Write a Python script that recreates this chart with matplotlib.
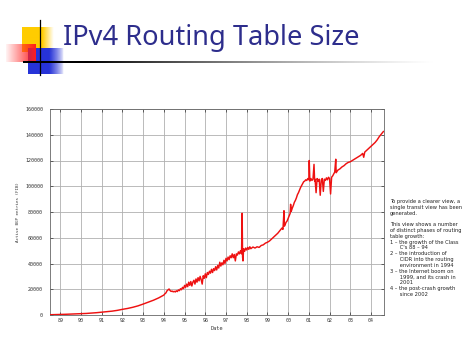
import numpy as np
import matplotlib
matplotlib.use("Agg")
import matplotlib.pyplot as plt

# Active BGP entries (decimal years)
date = [
    1988.50, 1988.75, 1989.00, 1989.25, 1989.50, 1989.75, 1990.00, 1990.25, 1990.50, 1990.75,
    1991.00, 1991.25, 1991.50, 1991.75, 1992.00, 1992.25, 1992.50, 1992.75, 1993.00, 1993.25,
    1993.50, 1993.75, 1994.00, 1994.05, 1994.10, 1994.15, 1994.20, 1994.25, 1994.30, 1994.35,
    1994.40, 1994.45, 1994.50, 1994.55, 1994.60, 1994.65, 1994.70, 1994.75, 1994.80, 1994.85,
    1994.90, 1994.95, 1995.00, 1995.05, 1995.10, 1995.15, 1995.20, 1995.25, 1995.30, 1995.35,
    1995.40, 1995.45, 1995.50, 1995.55, 1995.60, 1995.65, 1995.70, 1995.75, 1995.80, 1995.85,
    1995.90, 1995.95, 1996.00, 1996.05, 1996.10, 1996.15, 1996.20, 1996.25, 1996.30, 1996.35,
    1996.40, 1996.45, 1996.50, 1996.55, 1996.60, 1996.65, 1996.70, 1996.75, 1996.80, 1996.85,
    1996.90, 1996.95, 1997.00, 1997.05, 1997.10, 1997.15, 1997.20, 1997.25, 1997.30, 1997.35,
    1997.40, 1997.45, 1997.50, 1997.55, 1997.60, 1997.65, 1997.70, 1997.75, 1997.78, 1997.80,
    1997.82, 1997.85, 1997.90, 1997.95, 1998.00, 1998.05, 1998.10, 1998.15, 1998.20, 1998.30,
    1998.40, 1998.50, 1998.60, 1998.70, 1998.80, 1998.90, 1999.00, 1999.10, 1999.20, 1999.30,
    1999.40, 1999.50, 1999.60, 1999.70, 1999.75, 1999.80, 1999.82, 1999.85, 1999.90, 1999.95,
    2000.00, 2000.05, 2000.10, 2000.12, 2000.15, 2000.20, 2000.25, 2000.30, 2000.35, 2000.40,
    2000.45, 2000.50, 2000.55, 2000.60, 2000.65, 2000.70, 2000.75, 2000.80, 2000.85, 2000.90,
    2000.95, 2001.00, 2001.02, 2001.05, 2001.10, 2001.15, 2001.20, 2001.25, 2001.28, 2001.30,
    2001.35, 2001.40, 2001.45, 2001.50, 2001.55, 2001.60, 2001.65, 2001.70, 2001.75, 2001.80,
    2001.85, 2001.90, 2001.95, 2002.00, 2002.05, 2002.10, 2002.15, 2002.20, 2002.25, 2002.30,
    2002.32, 2002.40, 2002.50, 2002.60, 2002.70, 2002.80, 2002.90, 2003.00, 2003.10, 2003.20,
    2003.30, 2003.40, 2003.50, 2003.60, 2003.65, 2003.70, 2003.80, 2003.90, 2004.00, 2004.10,
    2004.20, 2004.30, 2004.40, 2004.50, 2004.60,
]
entries = [
    200, 300, 450, 550, 700, 850, 1000, 1200, 1500, 1800,
    2200, 2600, 3000, 3600, 4400, 5100, 6000, 7100, 8500, 10000,
    11500, 13300, 15500, 16500, 17200, 18800, 19500, 20200, 19000, 18300,
    18600, 18000, 18400, 17900, 18800, 18200, 19500, 18900, 20400, 19600,
    21500, 20500, 23000, 21500, 24000, 22000, 25500, 23000, 26000, 22500,
    25500, 27000, 24000, 28000, 25500, 29000, 26500, 30000, 27500, 24000,
    30500, 28500, 32000, 29000, 33000, 31500, 34000, 32500, 35500, 33000,
    36000, 34500, 37500, 35000, 38500, 36500, 41000, 38000, 40500, 39000,
    42500, 40000, 44000, 42000, 45000, 43000, 46000, 44500, 47500, 44500,
    47000, 42000, 47500, 46500, 49000, 47500, 50000, 47500, 79000, 45000,
    42000, 51500, 49500, 52000, 50500, 52500, 51000, 53000, 51500, 52800,
    52000, 53000, 52500, 54000, 54500, 55800, 56500, 57500, 59000, 60500,
    62000, 63500, 65500, 67500, 66500, 81000, 69000, 70000, 72000, 73000,
    75000, 77000, 79000, 86000, 80500, 83000, 85000, 87500, 89000, 91000,
    93500, 95000, 97000, 99000, 100500, 102000, 103500, 104000, 105000, 104500,
    106000, 105000, 120000, 104000, 106000, 104500, 105500, 117000, 104000, 105500,
    95000, 106000, 104000, 105500, 93000, 105000, 106000, 96000, 105500, 104500,
    106500, 105000, 107000, 106000, 94000, 107000, 108000, 109500, 111000, 121000,
    110500, 112500, 113500, 115000, 116000, 117500, 118500, 119000, 120000, 121000,
    122000, 123000, 124000, 125500, 122500, 126500, 128000, 129500, 131000, 132500,
    134000, 136000, 138500, 140500, 142500,
]

year_ticks = list(range(1989, 2005))
year_labels = ["%02d" % (y % 100) for y in year_ticks]
entry_ticks = list(range(0, 160001, 20000))

title = "IPv4 Routing Table Size"
notes = ("To provide a clearer view, a\n"
         "single transit view has been\n"
         "generated.\n"
         "\n"
         "This view shows a number\n"
         "of distinct phases of routing\n"
         "table growth:\n"
         "1 \u2013 the growth of the Class\n"
         "      C's 88 \u2013 94\n"
         "2 \u2013 the introduction of\n"
         "      CIDR into the routing\n"
         "      environment in 1994\n"
         "3 \u2013 the Internet boom on\n"
         "      1999, and its crash in\n"
         "      2001\n"
         "4 \u2013 the post-crash growth\n"
         "      since 2002")

W, H = 474, 355
fig = plt.figure(figsize=(W / 100, H / 100), dpi=100)

# slide decoration layer, in pixel coordinates
deco = fig.add_axes([0, 0, 1, 1])
deco.set_xlim(0, W)
deco.set_ylim(H, 0)
deco.axis("off")

def strip(rgb, alpha, x0, x1, y0, y1, z):
    img = np.ones((1, len(alpha), 4))
    img[0, :, :3] = rgb
    img[0, :, 3] = alpha
    deco.imshow(img, extent=(x0, x1, y1, y0), aspect="auto", zorder=z,
                interpolation="bilinear")

ramp = np.linspace(1, 0, 24)
strip((1.0, 0.80, 0.0), np.r_[np.ones(40), ramp], 22, 54, 27, 52, 1)
strip((1.0, 0.12, 0.12), np.linspace(0.05, 1, 64), 6, 36, 44, 62, 3)
strip((0.15, 0.2, 0.85), np.r_[np.ones(34), ramp ** 0.7], 28, 64, 48, 74, 2)
deco.plot([40.5, 40.5], [20, 75], color="black", lw=0.9, zorder=5)
# horizontal rule fading out to the right
strip((0.0, 0.0, 0.0), np.r_[np.ones(15), np.linspace(1, 0, 85) ** 1.3],
      23, 440, 61.4, 62.8, 5)
deco.set_xlim(0, W)
deco.set_ylim(H, 0)
deco.text(63, 45, title, fontsize=19.6, color="#2d2d8c", family="Noto Sans",
          va="baseline", ha="left", zorder=6)
deco.text(390, 199, notes, fontsize=3.7, color="#222222", family="DejaVu Sans",
          va="top", ha="left", linespacing=1.2)

# the chart itself
ax = fig.add_axes([50 / W, 1 - 315 / H, (384 - 50) / W, (315 - 109) / H])
ax.plot(date, entries, color="#ee1111", lw=1.05, zorder=3)
ax.set_xlim(1988.5, 2004.63)
ax.set_ylim(0, 160000)
ax.set_xticks(year_ticks)
ax.set_xticklabels(year_labels)
ax.set_yticks(entry_ticks)
ax.set_yticklabels([str(v) for v in entry_ticks])
ax.grid(True, color="#b0b0b0", lw=0.6)
ax.set_axisbelow(True)
ax.tick_params(direction="in", length=2.5, width=0.5, labelsize=3.6, pad=2.5,
               colors="#333333", top=True, right=True)
ax.tick_params(axis="y", pad=5)
for lab in ax.get_xticklabels() + ax.get_yticklabels():
    lab.set_family("DejaVu Sans Mono")
for s in ax.spines.values():
    s.set_color("#666666")
    s.set_linewidth(0.6)
ax.set_xlabel("Date", fontsize=3.8, family="DejaVu Sans Mono", labelpad=1.5, color="#333333")
ax.set_ylabel("Active BGP entries (FIB)", fontsize=3.0, family="DejaVu Sans Mono",
              labelpad=3.5, color="#333333")

fig.savefig("out.png", dpi=100)
